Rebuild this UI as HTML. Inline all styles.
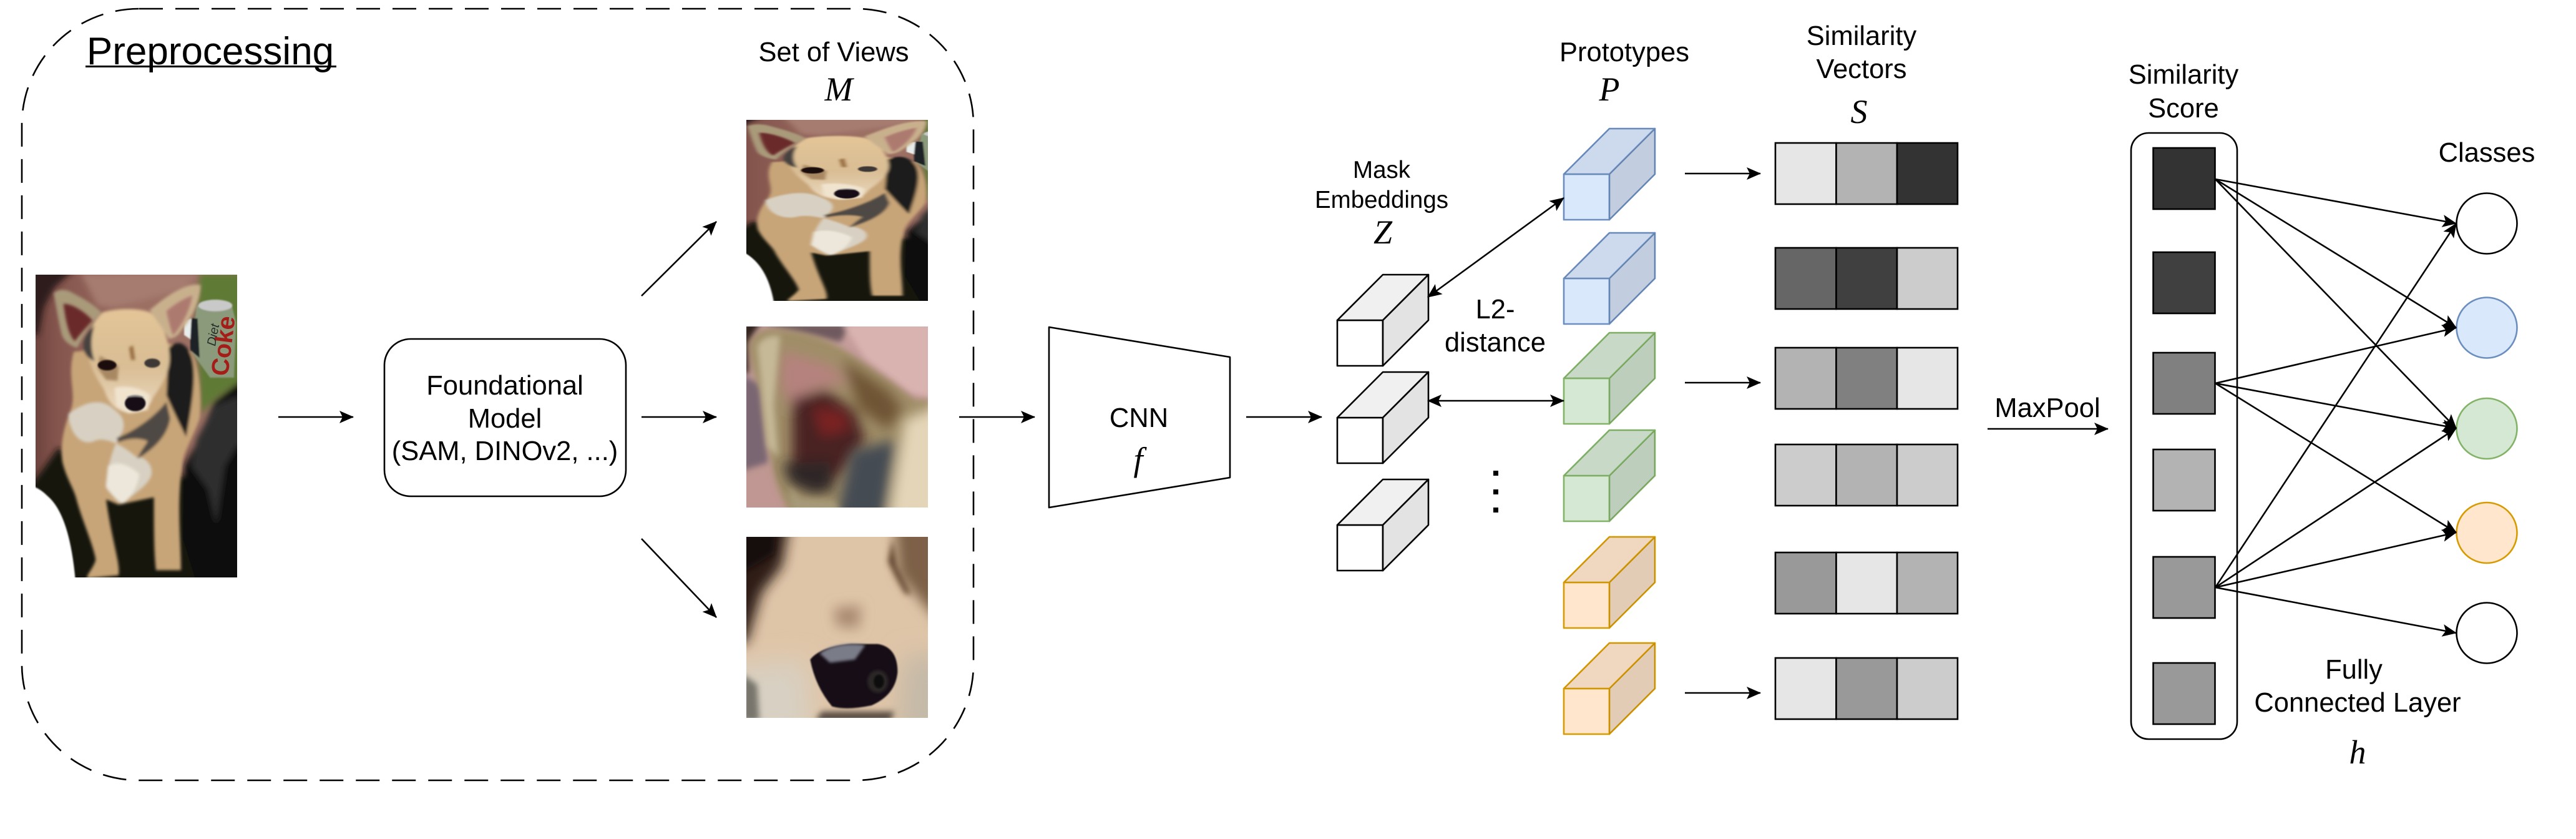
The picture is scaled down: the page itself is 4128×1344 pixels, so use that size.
<!DOCTYPE html>
<html><head><meta charset="utf-8"><title>Pipeline diagram</title>
<style>
html,body{margin:0;padding:0;background:#fff}
svg{display:block}
text{font-family:"Liberation Sans",sans-serif;font-size:43.5px;fill:#000;text-anchor:middle}
text.m{font-family:"Liberation Serif",serif;font-style:italic;font-size:54px}
.l{stroke:#000;stroke-width:2.6;fill:none;marker-end:url(#ah)}
.d{marker-start:url(#ahs)}
.b{stroke:#000;stroke-width:2.6}
</style></head><body>
<svg xmlns="http://www.w3.org/2000/svg" width="4128" height="1344" viewBox="0 0 4128 1344">
<defs>
<marker id="ah" markerUnits="userSpaceOnUse" markerWidth="30" markerHeight="30" refX="23" refY="15" orient="auto"><path d="M1,5 L24,15 L1,25 L6,15Z" fill="#000"/></marker>
<marker id="ahs" markerUnits="userSpaceOnUse" markerWidth="30" markerHeight="30" refX="7" refY="15" orient="auto"><path d="M29,5 L6,15 L29,25 L24,15Z" fill="#000"/></marker>
<filter id="bf" x="-15%" y="-15%" width="130%" height="130%"><feGaussianBlur stdDeviation="3"/></filter>
<filter id="bs" x="-15%" y="-15%" width="130%" height="130%"><feGaussianBlur stdDeviation="7"/></filter>
<filter id="bl" x="-20%" y="-20%" width="140%" height="140%"><feGaussianBlur stdDeviation="14"/></filter>
<filter id="bb" x="-30%" y="-30%" width="160%" height="160%"><feGaussianBlur stdDeviation="30"/></filter>
<filter id="bx" x="-50%" y="-50%" width="200%" height="200%"><feGaussianBlur stdDeviation="60"/></filter>
<clipPath id="c0"><rect x="57" y="440" width="323" height="485"/></clipPath>
<clipPath id="c1"><rect x="1196" y="192" width="291" height="290"/></clipPath>
<clipPath id="c2"><rect x="1196" y="523" width="291" height="290"/></clipPath>
<clipPath id="c3"><rect x="1196" y="860" width="291" height="290"/></clipPath>
<linearGradient id="sk" x1="0" y1="0" x2="1" y2="0"><stop offset="0" stop-color="#6a403b"/><stop offset=".12" stop-color="#84554d"/><stop offset=".5" stop-color="#9c6f63"/></linearGradient>
<linearGradient id="hd" x1="0" y1="0" x2="0" y2="1"><stop offset="0" stop-color="#e3c597"/><stop offset=".55" stop-color="#d9bd94"/><stop offset="1" stop-color="#ead9bf"/></linearGradient>
<g id="cube" stroke-width="2.6" stroke-linejoin="round">
<rect x="0" y="0" width="73" height="73"/>
<path d="M0,0 L73,-73 H146 L73,0Z"/>
<path d="M0,0 L73,-73 H146 L73,0Z" fill="#000" fill-opacity=".06" stroke="none"/>
<path d="M73,0 L146,-73 V0 L73,73Z"/>
<path d="M73,0 L146,-73 V0 L73,73Z" fill="#000" fill-opacity=".11" stroke="none"/>
</g>
<g id="dog">
<rect x="0" y="0" width="1020" height="1530" fill="url(#sk)"/>
<g filter="url(#bl)">
<path d="M0,0 H215 L110,95 L60,190 L35,320 H0Z" fill="#2e1f1c"/>
<path d="M240,25 H800 L740,100 L400,190 L320,180 Z" fill="#a67b70"/>
<path d="M810,25 H1020 V530 L880,630 L815,700 L805,500 L790,300 Z" fill="#5f7a36"/>
<path d="M0,1040 L60,960 L130,860 L300,1000 L900,1000 L1020,1200 V1530 H0Z" fill="#14160d"/>
<path d="M1020,530 L880,640 L800,830 L735,950 L730,1300 L800,1530 H1020Z" fill="#090909"/>
<path d="M1000,610 L880,660 L795,820 L770,950 L850,1060 L890,1230 L930,950 L990,850 L1020,840Z" fill="#2e2d2e"/>
</g>
<g filter="url(#bf)">
<path d="M795,180 Q880,140 965,180 L985,260 L975,525 L860,525 L770,400Z" fill="#8c9a7c"/>
<ellipse cx="885" cy="178" rx="82" ry="28" fill="#c8c9c8"/>
<path d="M765,240 L800,240 L810,430 L765,395Z" fill="#1e2426"/>
<path d="M735,250 L770,240 L765,340 L735,320Z" fill="#e8ecea"/>
</g>
<g filter="url(#bs)">
<path d="M205,400 C170,520 220,600 190,680 C150,780 140,860 150,930 C170,1010 200,1050 215,1100 C240,1200 300,1330 310,1400 C300,1440 260,1480 270,1490 L420,1475 C430,1420 390,1320 360,1110 L420,1135 L590,1100 C590,1250 590,1370 600,1450 L720,1450 C720,1300 700,1150 725,950 C730,880 770,830 810,720 C820,620 810,480 770,400 L660,360Z" fill="#c8a578"/>
<path d="M660,385 C690,350 730,345 760,400 C800,470 780,620 745,810 C720,760 690,700 650,610Z" fill="#1f1b1b"/>
<path d="M178,700 C260,640 340,620 400,680 C460,720 450,780 420,812 C390,880 365,960 360,1050 C390,1090 420,1130 440,1130 C480,1090 540,1060 570,1010 C600,950 540,900 510,910 C450,860 360,800 300,830 C250,850 190,810 178,700Z" fill="#d8d1c3"/>
<path d="M370,950 C420,920 480,950 520,990 C510,1060 470,1110 440,1130 C410,1110 380,1080 360,1050Z" fill="#ece7da"/>
<path d="M410,815 C480,790 590,720 650,640 L668,720 C660,780 620,850 510,915 C530,870 550,850 560,830 C510,810 460,820 420,835Z" fill="#4f4a44"/>
<path d="M345,210 C420,190 510,190 570,210 C620,250 660,320 665,420 C670,500 620,570 585,620 C570,670 520,695 460,690 C400,680 370,640 350,580 C310,520 270,450 270,380 C270,320 290,260 345,210Z" fill="url(#hd)"/>
<path d="M305,275 C265,310 240,350 255,400 C270,430 290,440 305,445 C285,390 285,330 305,275Z" fill="#474240"/>
<path d="M108,118 C130,100 160,100 185,110 C240,140 300,170 338,212 C300,250 250,320 222,382 C180,370 150,340 145,310 C130,250 120,180 108,118Z" fill="#a99a7a"/>
<path d="M815,80 C770,70 700,90 570,200 C600,250 640,300 662,338 C680,335 700,332 720,300 C770,240 810,170 815,80Z" fill="#c9b08d"/>
</g>
<g filter="url(#bs)">
<path d="M155,170 C200,170 260,210 295,250 C260,290 230,320 210,350 C180,320 165,250 155,170Z" fill="#6a2b2c"/>
<path d="M775,130 C720,150 680,180 650,205 C660,250 670,290 682,322 C720,280 760,210 775,130Z" fill="#ad7a70"/>
<path d="M330,420 L420,470 L415,540 L360,535 L320,480Z" fill="#a88862"/>
<path d="M400,575 C440,560 530,570 570,610 L560,680 L470,695 L410,660Z" fill="#f0e4cf"/>
<path d="M470,380 L490,370 L500,440 L480,440Z" fill="#9a6f44"/>
</g>
<g filter="url(#bf)">
<ellipse cx="365" cy="465" rx="45" ry="25" fill="#1b110c"/>
<ellipse cx="582" cy="455" rx="38" ry="22" fill="#3c3834"/>
<ellipse cx="500" cy="648" rx="50" ry="38" fill="#151012"/>
<path d="M455,620 Q500,596 545,620 L500,616Z" fill="#8f8a8c"/>
</g>
<path d="M0,1045 Q40,1055 80,1095 Q190,1190 215,1530 H0Z" fill="#fff" filter="url(#bf)"/>
</g>
</defs>

<rect x="0" y="0" width="4128" height="1344" fill="#fff"/>

<!-- preprocessing frame -->
<rect x="35" y="14" width="1525" height="1236" rx="188" ry="186" fill="none" stroke="#000" stroke-width="2.6" stroke-dasharray="38 20"/>
<text x="337" y="103" style="font-size:62px">Preprocessing</text>
<rect x="137" y="105" width="402" height="3" fill="#000"/>

<!-- input image -->
<g clip-path="url(#c0)"><use href="#dog" transform="translate(50,430) scale(.33333)"/>
<g transform="translate(50,430) scale(.33333)">
<text transform="translate(945,520) rotate(-83)" style="font-size:118px;font-weight:bold;fill:#a51d18;text-anchor:start">Coke</text>
<text transform="translate(885,375) rotate(-80)" style="font-size:60px;font-style:italic;fill:#25302a;text-anchor:start">Diet</text>
</g></g>

<!-- view 1 -->
<g clip-path="url(#c1)"><use href="#dog" transform="translate(1153.6,178) scale(.4067,.204)"/></g>

<!-- view 2: ear -->
<g clip-path="url(#c2)"><g transform="translate(1190,515) scale(.33333)">
<rect width="915" height="915" fill="#c59d9b"/>
<g filter="url(#bl)">
<path d="M0,0 H90 L30,100 L30,250 H0Z" fill="#33221f"/>
<path d="M0,260 L90,300 L125,680 L0,720Z" fill="#7a6672"/>
<path d="M90,10 H520 L470,100 L200,40Z" fill="#6f5a5e"/>
<path d="M480,10 H915 V370 L800,340 L590,180Z" fill="#d9b3b0"/>
<path d="M0,720 L140,680 L210,850 L300,915 H0Z" fill="#c09792"/>
</g>
<path d="M30,110 Q60,40 130,35 Q330,40 470,125 Q620,220 830,375 L900,375 V915 H230 Q180,850 150,730 Q110,560 90,340 Q40,240 30,110Z" fill="#a08e68" filter="url(#bl)"/>
<g filter="url(#bb)">
<path d="M190,140 L420,210 L510,290 L330,330 L240,430 L180,300Z" fill="#b5827e"/>
<path d="M240,370 L400,330 L540,430 L590,570 L450,760 L240,680Z" fill="#4a2020"/>
<path d="M340,410 L490,440 L510,520 L380,550Z" fill="#7c2223"/>
<path d="M480,180 L700,330 L770,420 L700,520 L560,420Z" fill="#6f5436"/>
<path d="M190,680 L420,670 L440,810 L340,830 L230,780Z" fill="#2f2528"/>
</g>
<g filter="url(#bb)">
<path d="M520,620 L740,570 L680,960 H450Z" fill="#454c52"/>
<path d="M780,470 L960,400 V960 L700,960Z" fill="#e4d5b8"/>
</g>
<g filter="url(#bl)">
<path d="M220,790 L280,850 L440,860 L470,915 H240Z" fill="#a69a78"/>
<path d="M70,120 Q100,60 180,70 L150,400 L170,650 L120,600 Q100,400 70,120Z" fill="#c6b998"/>
</g>
</g></g>

<!-- view 3: nose -->
<g clip-path="url(#c3)"><g transform="translate(1190,850) scale(.33333)">
<rect width="915" height="915" fill="#dfc5a8"/>
<g filter="url(#bx)">
<path d="M-100,660 L300,620 L340,1000 H-100Z" fill="#d8d0c2"/>
<path d="M780,600 L1000,600 V1000 L740,1000Z" fill="#c4b9a8"/>
</g>
<g filter="url(#bb)">
<path d="M-60,-60 H230 L190,170 L90,300 L20,540 H-60Z" fill="#2e1e15"/>
<path d="M730,-60 H970 V470 L850,330 L750,210Z" fill="#7d6046"/>
<path d="M440,370 L570,360 L560,470 L450,460Z" fill="#a98a72"/>
</g>
<g filter="url(#bl)">
<path d="M0,0 H160 L150,110 L20,190 H0Z" fill="#120b08"/>
<path d="M0,690 L70,740 L80,915 H0Z" fill="#77746c"/>
<path d="M380,870 L730,870 L710,915 H350Z" fill="#54493f"/>
<path d="M720,40 L740,170 L810,310 L780,300 L700,150Z" fill="#5a3c28"/>
</g>
<path d="M325,620 Q370,560 520,545 L650,545 Q745,560 745,680 Q735,790 620,840 Q500,865 430,845 Q350,750 325,620Z" fill="#141015" filter="url(#bf)"/>
<path d="M370,590 Q450,530 590,550 L540,620 L420,635Z" fill="#7a7c88" filter="url(#bs)"/>
<ellipse cx="650" cy="725" rx="50" ry="55" fill="#2b2725" filter="url(#bs)"/>
<ellipse cx="655" cy="725" rx="24" ry="32" fill="#0a0709" filter="url(#bf)"/>
</g></g>

<text x="1336" y="98">Set of Views</text>
<text class="m" x="1344" y="161">M</text>

<!-- foundational model -->
<rect x="616" y="543" width="387" height="252" rx="42" ry="42" fill="#fff" class="b"/>
<text x="809" y="632">Foundational</text>
<text x="809" y="685">Model</text>
<text x="809" y="737">(SAM, DINOv2, ...)</text>

<line class="l" x1="446" y1="668" x2="566" y2="668"/>
<line class="l" x1="1028" y1="474" x2="1148" y2="355"/>
<line class="l" x1="1028" y1="668" x2="1148" y2="668"/>
<line class="l" x1="1028" y1="863" x2="1148" y2="989"/>
<line class="l" x1="1537" y1="668" x2="1658" y2="668"/>

<!-- CNN -->
<path d="M1681,524 L1971,572 V765 L1681,813Z" fill="#fff" class="b" stroke-linejoin="round"/>
<text x="1825" y="684">CNN</text>
<text class="m" x="1824" y="754">f</text>
<line class="l" x1="1997" y1="668" x2="2118" y2="668"/>

<!-- mask embeddings -->
<text x="2214" y="285" style="font-size:38.5px">Mask</text>
<text x="2214" y="333" style="font-size:38.5px">Embeddings</text>
<text class="m" x="2216" y="390">Z</text>
<use href="#cube" x="2143" y="513" fill="#fff" stroke="#000"/>
<use href="#cube" x="2143" y="669" fill="#fff" stroke="#000"/>
<use href="#cube" x="2143" y="841" fill="#fff" stroke="#000"/>

<!-- prototypes -->
<text x="2603" y="98">Prototypes</text>
<text class="m" x="2579" y="161">P</text>
<use href="#cube" x="2506" y="279" fill="#dae8fc" stroke="#6c8ebf"/>
<use href="#cube" x="2506" y="446" fill="#dae8fc" stroke="#6c8ebf"/>
<use href="#cube" x="2506" y="606" fill="#d5e8d4" stroke="#82b366"/>
<use href="#cube" x="2506" y="762" fill="#d5e8d4" stroke="#82b366"/>
<use href="#cube" x="2506" y="933" fill="#ffe6cc" stroke="#d79b00"/>
<use href="#cube" x="2506" y="1103" fill="#ffe6cc" stroke="#d79b00"/>

<line class="l d" x1="2288" y1="476" x2="2506" y2="317"/>
<line class="l d" x1="2288" y1="642" x2="2506" y2="642"/>
<text x="2396" y="510">L2-</text>
<text x="2396" y="563">distance</text>
<rect x="2393" y="754" width="8" height="8" fill="#000"/>
<rect x="2393" y="784" width="8" height="8" fill="#000"/>
<rect x="2393" y="813" width="8" height="8" fill="#000"/>

<line class="l" x1="2700" y1="278" x2="2821" y2="278"/>
<line class="l" x1="2700" y1="613" x2="2821" y2="613"/>
<line class="l" x1="2700" y1="1110" x2="2821" y2="1110"/>

<!-- similarity vectors -->
<text x="2983" y="72">Similarity</text>
<text x="2983" y="125">Vectors</text>
<text class="m" x="2979" y="197">S</text>
<g class="b">
<rect x="2845" y="229" width="97.5" height="98" fill="#e6e6e6"/><rect x="2942.5" y="229" width="97.5" height="98" fill="#b3b3b3"/><rect x="3040" y="229" width="97" height="98" fill="#333"/>
<rect x="2845" y="397" width="97.5" height="98" fill="#666"/><rect x="2942.5" y="397" width="97.5" height="98" fill="#404040"/><rect x="3040" y="397" width="97" height="98" fill="#ccc"/>
<rect x="2845" y="557" width="97.5" height="98" fill="#b3b3b3"/><rect x="2942.5" y="557" width="97.5" height="98" fill="#808080"/><rect x="3040" y="557" width="97" height="98" fill="#e6e6e6"/>
<rect x="2845" y="712" width="97.5" height="98" fill="#ccc"/><rect x="2942.5" y="712" width="97.5" height="98" fill="#b3b3b3"/><rect x="3040" y="712" width="97" height="98" fill="#ccc"/>
<rect x="2845" y="885" width="97.5" height="98" fill="#999"/><rect x="2942.5" y="885" width="97.5" height="98" fill="#e6e6e6"/><rect x="3040" y="885" width="97" height="98" fill="#b3b3b3"/>
<rect x="2845" y="1054" width="97.5" height="98" fill="#e6e6e6"/><rect x="2942.5" y="1054" width="97.5" height="98" fill="#999"/><rect x="3040" y="1054" width="97" height="98" fill="#ccc"/>
</g>

<!-- maxpool -->
<text x="3281" y="668">MaxPool</text>
<line class="l" x1="3185" y1="687" x2="3378" y2="687"/>

<!-- similarity score -->
<text x="3499" y="134">Similarity</text>
<text x="3499" y="188">Score</text>
<rect x="3415" y="213" width="170" height="971" rx="28" ry="28" fill="none" class="b"/>
<g class="b">
<rect x="3450.5" y="237" width="99" height="98" fill="#333"/>
<rect x="3450.5" y="404" width="99" height="98" fill="#404040"/>
<rect x="3450.5" y="565" width="99" height="98" fill="#808080"/>
<rect x="3450.5" y="720" width="99" height="98" fill="#b3b3b3"/>
<rect x="3450.5" y="892" width="99" height="98" fill="#999"/>
<rect x="3450.5" y="1062" width="99" height="98" fill="#999"/>
</g>

<!-- classes -->
<text x="3985" y="259">Classes</text>
<circle cx="3985" cy="358" r="48.5" fill="#fff" class="b"/>
<circle cx="3985" cy="525" r="48.5" fill="#dae8fc" stroke="#6c8ebf" stroke-width="2.6"/>
<circle cx="3985" cy="686.5" r="48.5" fill="#d5e8d4" stroke="#82b366" stroke-width="2.6"/>
<circle cx="3985" cy="853.5" r="48.5" fill="#ffe6cc" stroke="#d79b00" stroke-width="2.6"/>
<circle cx="3985" cy="1014" r="48.5" fill="#fff" class="b"/>

<line class="l" x1="3550" y1="287" x2="3936" y2="358"/>
<line class="l" x1="3550" y1="287" x2="3936" y2="525"/>
<line class="l" x1="3550" y1="287" x2="3936" y2="686"/>
<line class="l" x1="3550" y1="614" x2="3936" y2="525"/>
<line class="l" x1="3550" y1="614" x2="3936" y2="686"/>
<line class="l" x1="3550" y1="614" x2="3936" y2="853"/>
<line class="l" x1="3550" y1="941" x2="3936" y2="358"/>
<line class="l" x1="3550" y1="941" x2="3936" y2="686"/>
<line class="l" x1="3550" y1="941" x2="3936" y2="853"/>
<line class="l" x1="3550" y1="941" x2="3936" y2="1014"/>

<text x="3772" y="1087">Fully</text>
<text x="3778" y="1140">Connected Layer</text>
<text class="m" x="3778" y="1223">h</text>
</svg>
</body></html>
